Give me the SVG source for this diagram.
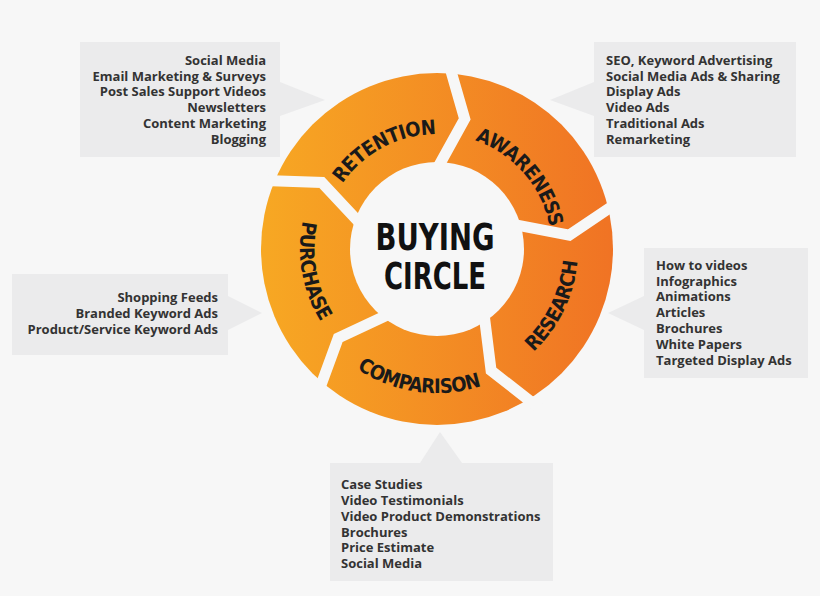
<svg xmlns="http://www.w3.org/2000/svg" width="820" height="596" viewBox="0 0 820 596">
<style>
.box{fill:#ebebec}
.t{font-family:"Open Sans","DejaVu Sans",sans-serif;font-weight:bold;font-size:13px;fill:#333}
.r{text-anchor:end}
.seg{font-family:"DejaVu Sans Condensed","DejaVu Sans",sans-serif;font-weight:bold;font-size:20px;letter-spacing:-0.6px;fill:#1a1a1a}
.ctr{font-family:"DejaVu Sans Condensed","DejaVu Sans",sans-serif;font-weight:bold;font-size:37px;fill:#111;text-anchor:middle}
.gap{fill:none;stroke:#f7f7f7;stroke-width:11;stroke-linejoin:miter}
</style>
<defs>
<linearGradient id="g" gradientUnits="userSpaceOnUse" x1="262" y1="0" x2="613" y2="0">
<stop offset="0" stop-color="#f7a823"/><stop offset="1" stop-color="#f07324"/>
</linearGradient>
<path id="pRet" d="M327.6,213.5 A115,115 0 0 1 468.7,138.5"/>
<path id="pAwa" d="M447,134.4 A115,115 0 0 1 551.8,255"/>
<path id="pRes" d="M485.2,381.5 A141,141 0 0 0 571.1,205.4"/>
<path id="pCom" d="M323.5,337.7 A144,144 0 0 0 521.7,365.5"/>
<path id="pPur" d="M323.4,172.4 A137,137 0 0 0 356.4,359.8"/>
</defs>
<rect width="820" height="596" fill="#f7f7f7"/>
<g id="retention-box">
<rect class="box" x="80" y="42" width="200" height="115"/>
<polygon class="box" points="280,82 325,100 280,116"/>
<text class="t r" x="266" y="65">Social Media</text>
<text class="t r" x="266" y="81">Email Marketing &amp; Surveys</text>
<text class="t r" x="266" y="96">Post Sales Support Videos</text>
<text class="t r" x="266" y="112">Newsletters</text>
<text class="t r" x="266" y="128">Content Marketing</text>
<text class="t r" x="266" y="144">Blogging</text>
</g>
<g id="awareness-box">
<rect class="box" x="594" y="42" width="202" height="115"/>
<polygon class="box" points="594,82 550,100 594,116"/>
<text class="t" x="606" y="65">SEO, Keyword Advertising</text>
<text class="t" x="606" y="81">Social Media Ads &amp; Sharing</text>
<text class="t" x="606" y="96">Display Ads</text>
<text class="t" x="606" y="112">Video Ads</text>
<text class="t" x="606" y="128">Traditional Ads</text>
<text class="t" x="606" y="144">Remarketing</text>
</g>
<g id="research-box">
<rect class="box" x="644" y="248" width="164" height="130"/>
<polygon class="box" points="644,296 608,313 644,330"/>
<text class="t" x="656" y="270">How to videos</text>
<text class="t" x="656" y="286">Infographics</text>
<text class="t" x="656" y="301">Animations</text>
<text class="t" x="656" y="317">Articles</text>
<text class="t" x="656" y="333">Brochures</text>
<text class="t" x="656" y="349">White Papers</text>
<text class="t" x="656" y="365">Targeted Display Ads</text>
</g>
<g id="purchase-box">
<rect class="box" x="12" y="274" width="216" height="81"/>
<polygon class="box" points="228,296 262,313 228,330"/>
<text class="t r" x="218" y="302">Shopping Feeds</text>
<text class="t r" x="218" y="318">Branded Keyword Ads</text>
<text class="t r" x="218" y="334">Product/Service Keyword Ads</text>
</g>
<g id="comparison-box">
<rect class="box" x="330" y="463" width="223" height="118"/>
<polygon class="box" points="420,463 440,432 462,463"/>
<text class="t" x="341" y="489">Case Studies</text>
<text class="t" x="341" y="505">Video Testimonials</text>
<text class="t" x="341" y="521">Video Product Demonstrations</text>
<text class="t" x="341" y="537">Brochures</text>
<text class="t" x="341" y="552">Price Estimate</text>
<text class="t" x="341" y="568">Social Media</text>
</g>
<g id="circle">
<circle cx="437" cy="249" r="176" fill="url(#g)"/>
<circle cx="437" cy="249" r="87" fill="#f7f7f7"/>
</g>
<g id="connectors">
<polyline class="gap" points="437,169 464.7,118.9 447,57.2"/>
<polyline class="gap" points="513.1,224.3 569.3,235.1 622.5,199.3"/>
<polyline class="gap" points="484,313.7 491.1,370.6 541.6,410.1"/>
<polyline class="gap" points="390,313.7 338.2,338 316.2,398.2"/>
<polyline class="gap" points="360.9,224.3 321.8,182.5 257.7,180.3"/>
</g>
<g id="retention"><text class="seg"><textPath href="#pRet" startOffset="50%" text-anchor="middle">RETENTION</textPath></text></g>
<g id="awareness"><text class="seg"><textPath href="#pAwa" startOffset="50%" text-anchor="middle">AWARENESS</textPath></text></g>
<g id="research"><text class="seg"><textPath href="#pRes" startOffset="50%" text-anchor="middle">RESEARCH</textPath></text></g>
<g id="comparison"><text class="seg"><textPath href="#pCom" startOffset="50%" text-anchor="middle">COMPARISON</textPath></text></g>
<g id="purchase"><text class="seg"><textPath href="#pPur" startOffset="50%" text-anchor="middle">PURCHASE</textPath></text></g>
<g id="center">
<text class="ctr" x="435" y="250" textLength="119" lengthAdjust="spacingAndGlyphs">BUYING</text>
<text class="ctr" x="435" y="289" textLength="102" lengthAdjust="spacingAndGlyphs">CIRCLE</text>
</g>
</svg>
